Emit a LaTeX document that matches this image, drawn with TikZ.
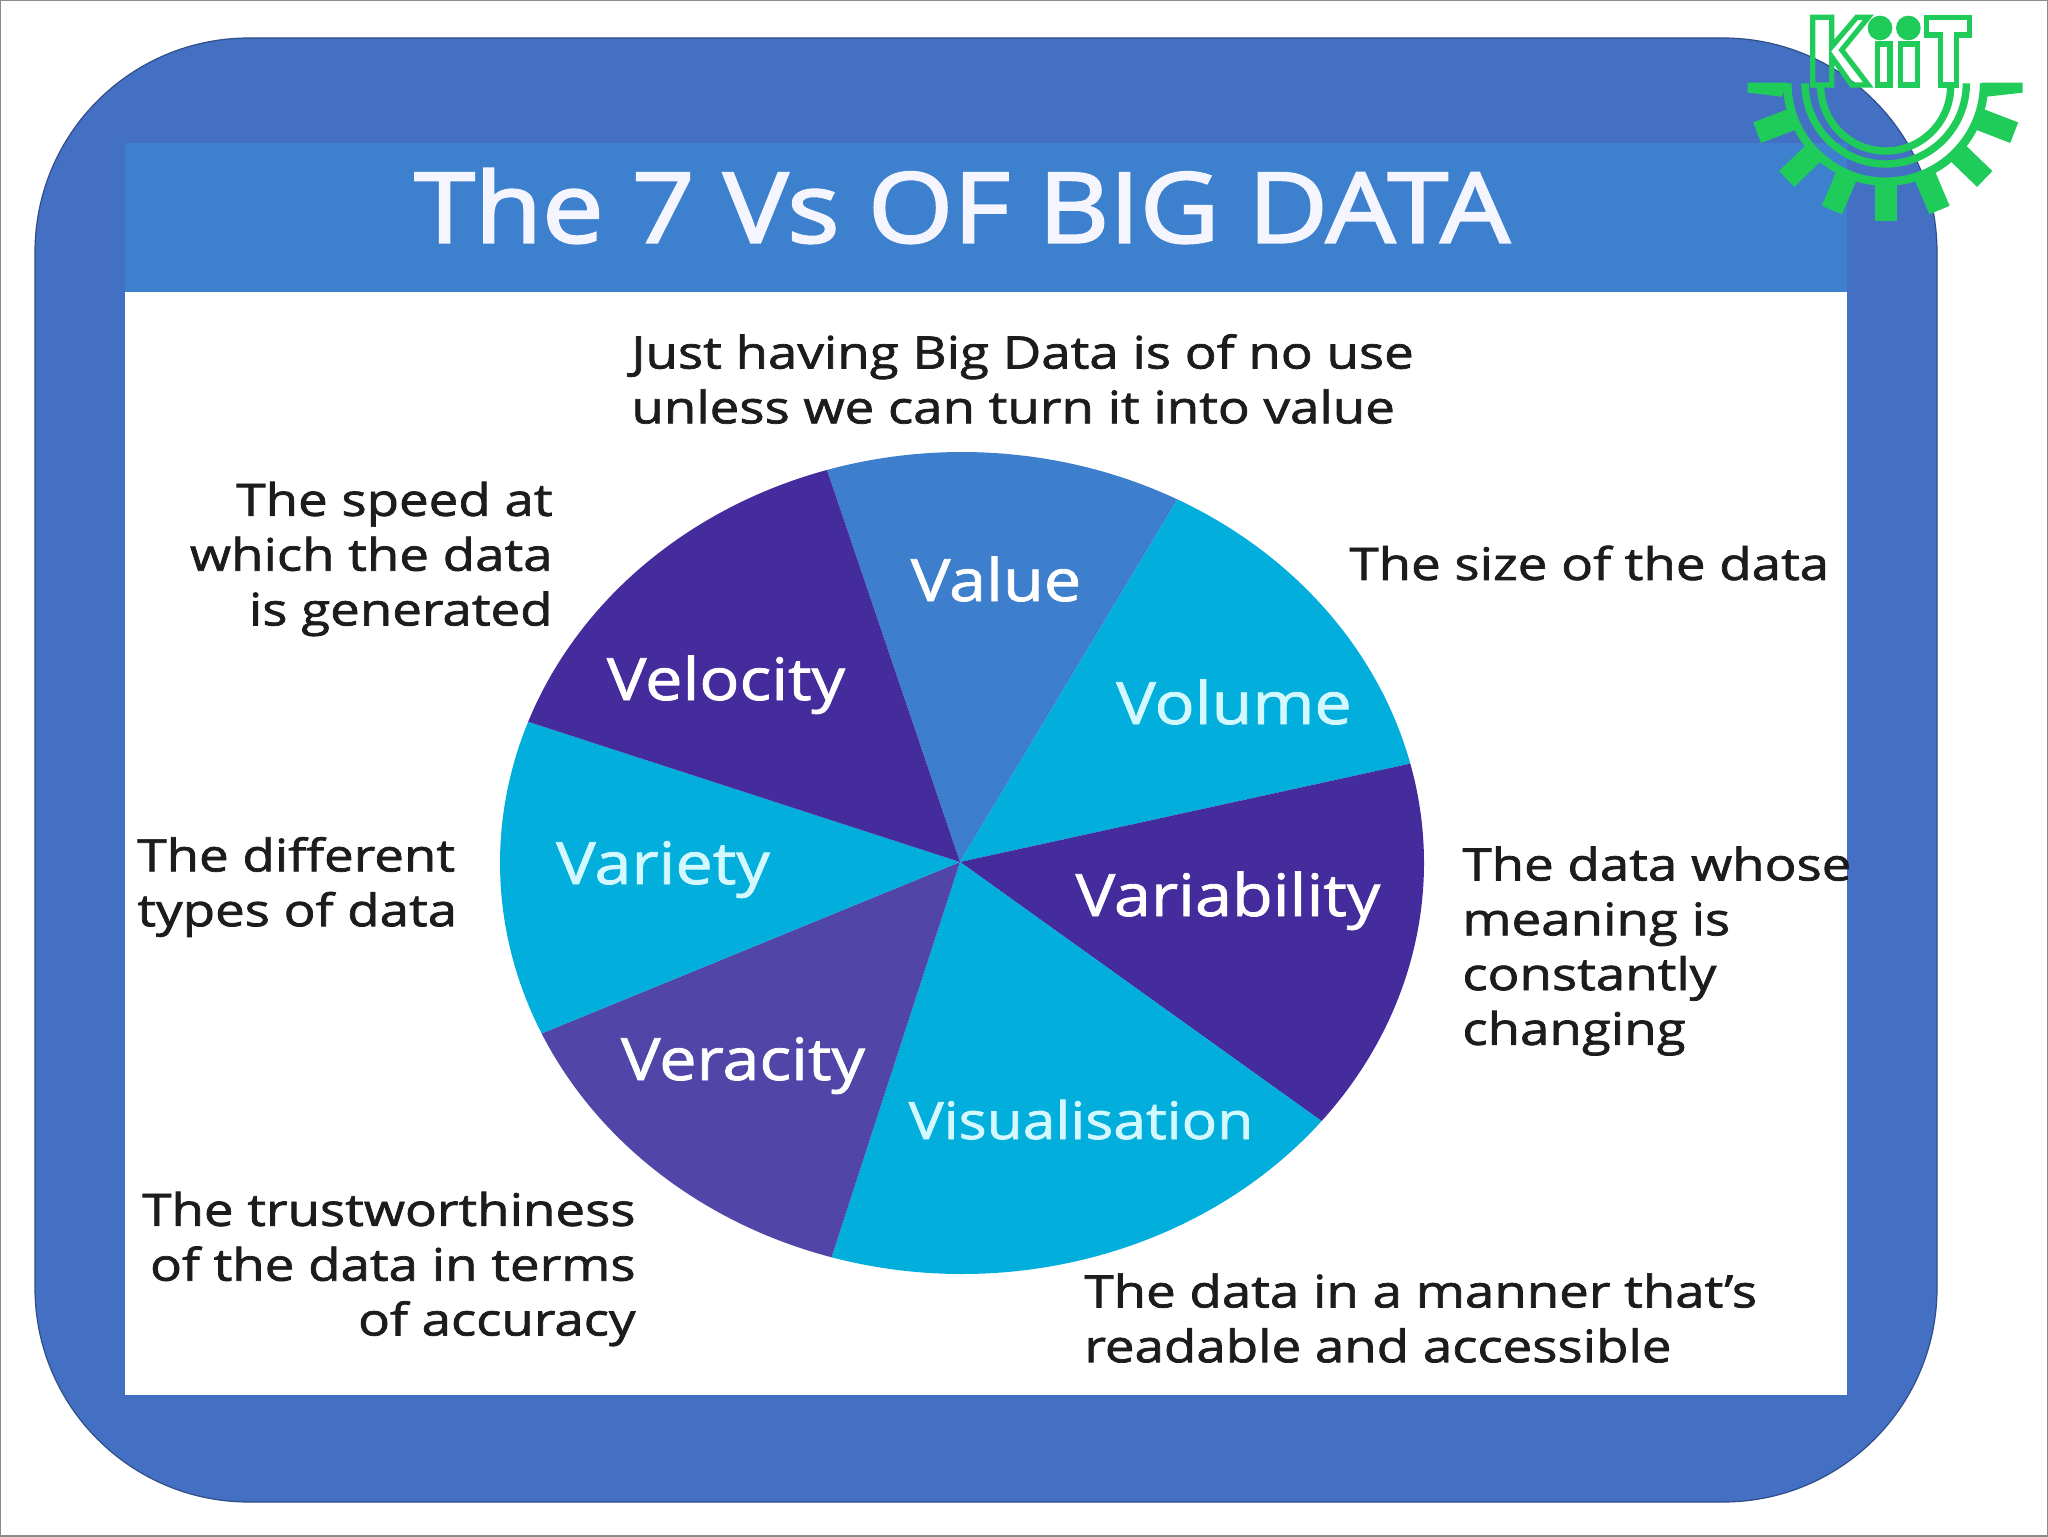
\documentclass[tikz,border=0pt]{standalone}
\usepackage{fontspec}
\setmainfont[FakeStretch=1.127,FakeBold=2.4]{Open Sans}
\newfontfamily\descfont[FakeStretch=1.18,FakeBold=1.6]{Open Sans}
\newfontfamily\slicefont[FakeStretch=1.14,FakeBold=1.4]{Open Sans}
\definecolor{outerblue}{HTML}{4470C4}
\definecolor{headblue}{HTML}{3D80CE}
\definecolor{pdark}{HTML}{452C9C}
\definecolor{pmid}{HTML}{5146A8}
\definecolor{pcyan}{HTML}{02AEDB}
\definecolor{pblue}{HTML}{3D7FCC}
\definecolor{kgreen}{HTML}{1FCB59}
\definecolor{txt}{HTML}{1C1C1C}
\definecolor{lcyan}{HTML}{D4F8FF}
\tikzset{
  desc/.style={inner sep=0pt,text=txt,font=\descfont\fontsize{22.4}{27.4}\selectfont},
  slicew/.style={inner sep=0pt,anchor=base,text=white,font=\slicefont\fontsize{29.2}{30}\selectfont},
  slicec/.style={inner sep=0pt,anchor=base,text=lcyan,font=\slicefont\fontsize{29.2}{30}\selectfont},
  ring/.style={draw=kgreen,line width=#1},
  tooth/.style={draw=kgreen,line width=11pt},
  letter/.style={draw=kgreen,line width=2.6pt,miter limit=4}
}
\newcommand{\sector}[3]{\fill[#1] (960,862) -- ([shift={(962,863)}]#2:462 and 411) arc[start angle=#2,end angle=#3,x radius=462,y radius=411] -- cycle;}
\begin{document}
\begin{tikzpicture}[x=0.5pt,y=-0.5pt]
\useasboundingbox (0,0) rectangle (2048,1536);
\fill[white] (0,0) rectangle (2048,1536);
\draw[gray!90,line width=1pt] (0,0) rectangle (2048,1536);
\fill[outerblue,draw=outerblue!70!black,line width=0.6pt,rounded corners=107pt] (35,38) rectangle (1937,1502);
\fill[headblue] (125,143) rectangle (1847,292);
\fill[white] (125,292) rectangle (1847,1395);
\node[inner sep=0pt,text=white!96!blue,font=\fontsize{48.6}{50}\selectfont] (title) at (962,206) {The 7 Vs OF BIG DATA};
% pie
\sector{pblue}{-107.0}{-62.2}
\sector{pcyan}{-62.2}{-14.0}
\sector{pdark}{-14.0}{38.9}
\sector{pcyan}{38.9}{106.4}
\sector{pmid}{106.4}{155.5}
\sector{pcyan}{155.5}{200.1}
\sector{pdark}{200.1}{253.0}
\node[slicew] (value) at (996,601) {Value};
\node[slicew] (velocity) at (726,700) {Velocity};
\node[slicec] (volume) at (1234,724) {Volume};
\node[slicec] (variety) at (663,884) {Variety};
\node[slicew] (variability) at (1228,916) {Variability};
\node[slicew] (veracity) at (743,1080) {Veracity};
\node[slicec,font=\slicefont\fontsize{25.8}{30}\selectfont] (visual) at (1081,1139) {Visualisation};
% descriptions
\node[desc,anchor=west,align=left] (d1) at (631,379) {Just having Big Data is of no use\\unless we can turn it into value};
\node[desc,anchor=east,align=right] (d2) at (553,559) {The speed at\\which the data\\is generated};
\node[desc,anchor=west,align=left] (d3) at (1349,563) {The size of the data};
\node[desc,anchor=west,align=left] (d4) at (1462,951) {The data whose\\meaning is\\constantly\\changing};
\node[desc,anchor=west,align=left] (d5) at (137,887) {The different\\types of data};
\node[desc,anchor=east,align=right] (d6) at (636,1269) {The trustworthiness\\of the data in terms\\of accuracy};
\node[desc,anchor=west,align=left] (d7) at (1084,1318) {The data in a manner that’s\\readable and accessible};
% logo
\begin{scope}[shift={(1700,0)},x=0.16667pt,y=-0.16667pt]
  \foreach \a in {21,44,67,90,113,136,159}
    \draw[tooth] ([shift={(557,250)}]\a:285) -- ([shift={(557,250)}]\a:413);
  \fill[kgreen] (143,248) -- (262,248) -- (245,290) -- (143,278) -- cycle;
  \fill[kgreen] (968,248) -- (845,248) -- (860,290) -- (968,278) -- cycle;
  \draw[ring=4.2pt] (852,250) arc[start angle=0,end angle=180,radius=295];
  \draw[ring=3.7pt] (799,250) arc[start angle=0,end angle=180,radius=242];
  \draw[ring=3.7pt] (752,258) arc[start angle=0,end angle=180,radius=195];
  \draw[letter] (338,52) -- (395,52) -- (395,140) -- (470,52) -- (505,52) -- (425,150) -- (505,255) -- (455,255) -- (395,170) -- (395,255) -- (338,255) -- cycle;
  \fill[kgreen] (540,84) circle[radius=37];
  \fill[kgreen] (625,84) circle[radius=37];
  \draw[letter] (532,132) rectangle (570,255);
  \draw[letter] (602,132) rectangle (653,255);
  \draw[letter] (680,52) -- (808,52) -- (808,105) -- (770,105) -- (770,255) -- (722,255) -- (722,105) -- (680,105) -- cycle;
\end{scope}
\end{tikzpicture}
\end{document}
